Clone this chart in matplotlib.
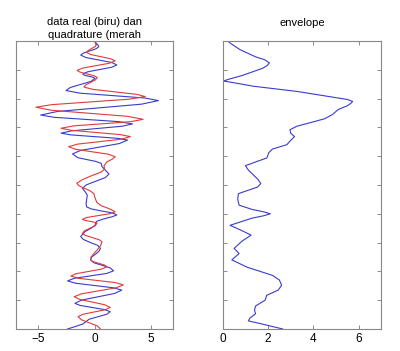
import numpy as np
import matplotlib
matplotlib.use("Agg")
from matplotlib import pyplot as plt

plt.rcParams["font.family"] = ["Liberation Sans", "DejaVu Sans"]

# trace position (top = 0, bottom = 10) and amplitude
# real part (blue)
u_real = [0.0, 0.05, 0.1, 0.15, 0.2, 0.27, 0.345, 0.42, 0.49, 0.575, 0.66, 0.745,
          0.83, 0.91, 0.99, 1.07, 1.15, 1.19, 1.225, 1.26, 1.3, 1.405, 1.51, 1.615,
          1.72, 1.81, 1.895, 1.98, 2.07, 2.195, 2.32, 2.445, 2.57, 2.65, 2.725, 2.8,
          2.88, 2.96, 3.04, 3.12, 3.2, 3.26, 3.32, 3.38, 3.44, 3.56, 3.68, 3.8,
          3.92, 4.05, 4.1, 4.18, 4.25, 4.36, 4.48, 4.62, 4.745, 4.87, 4.995, 5.12,
          5.25, 5.36, 5.5, 5.65, 5.76, 5.83, 5.9, 5.97, 6.04, 6.1, 6.18, 6.26, 6.33,
          6.4, 6.5, 6.62, 6.79, 6.89, 7.0, 7.1, 7.2, 7.3, 7.4, 7.5, 7.6, 7.7, 7.79,
          7.88, 7.98, 8.07, 8.155, 8.24, 8.33, 8.41, 8.49, 8.57, 8.65, 8.765, 8.88,
          8.995, 9.11, 9.18, 9.255, 9.33, 9.4, 9.49, 9.575, 9.66, 9.75, 9.82, 9.9,
          10.0]
real = [0.05, 0.1, 0.22, 0.33, 0.38, 0.14, -0.43, -0.99, -1.23, -0.76, 0.38, 1.52,
        1.99, 1.55, 0.47, -0.61, -1.05, -0.89, -0.5, -0.11, 0.05, -0.33, -1.25, -2.16,
        -2.54, -1.34, 1.58, 4.5, 5.7, 4.17, 0.45, -3.27, -4.8, -3.6, -0.7, 2.19,
        3.39, 2.46, 0.2, -2.05, -2.98, -2.11, -0.01, 2.08, 2.95, 2.23, 0.5, -1.24,
        -1.96, -1.5, -0.9, 0.1, 0.6, 0.67, 0.95, 1.3, 0.95, 0.11, -0.73, -1.08,
        -0.8, -0.64, -0.7, -0.75, -0.7, -0.3, 0.6, 1.6, 1.99, 1.6, 0.8, 0.2, 0.1,
        0.05, -0.3, -0.85, -1.23, -1.0, -0.35, 0.3, 0.53, 0.4, 0.1, -0.25, -0.35, -0.05, 0.68,
        1.4, 1.7, 1.1, -0.35, -1.8, -2.4, -1.7, 0.0, 1.7, 2.43, 1.8, 0.34,
        -1.14, -1.75, -1.29, -0.18, 0.94, 1.4, 1.08, 0.3, -0.47, -0.79, -1.0, -1.6,
        -2.4]

# quadrature (red)
u_quad = [0.0, 0.04, 0.08, 0.12, 0.19, 0.26, 0.33, 0.4, 0.47, 0.545, 0.62, 0.69,
          0.77, 0.855, 0.94, 1.02, 1.08, 1.145, 1.21, 1.27, 1.35, 1.435, 1.52, 1.6,
          1.68, 1.765, 1.85, 1.93, 2.02, 2.115, 2.21, 2.3, 2.405, 2.51, 2.615, 2.72,
          2.8, 2.875, 2.95, 3.03, 3.1, 3.175, 3.25, 3.32, 3.41, 3.495, 3.58, 3.67,
          3.76, 3.845, 3.93, 4.02, 4.1, 4.2, 4.33, 4.45, 4.55, 4.7, 4.82, 4.94,
          5.02, 5.1, 5.2, 5.3, 5.45, 5.6, 5.72, 5.82, 5.93, 5.995, 6.06, 6.125, 6.19,
          6.225, 6.26, 6.295, 6.33, 6.42, 6.505, 6.59, 6.68, 6.75, 6.825, 6.9, 6.97,
          7.1, 7.25, 7.4, 7.5, 7.6, 7.66, 7.72, 7.78, 7.84, 7.92, 8.0, 8.08, 8.16,
          8.24, 8.315, 8.39, 8.47, 8.57, 8.675, 8.78, 8.88, 8.97, 9.065, 9.16, 9.25,
          9.33, 9.41, 9.49, 9.57, 9.68, 9.785, 9.89, 10.0]
quad = [0.0, 0.03, 0.12, 0.2, 0.07, -0.25, -0.57, -0.7, -0.33, 0.57, 1.47, 1.84,
        1.35, 0.15, -1.06, -1.55, -1.29, -0.65, -0.01, 0.25, 0.08, -0.35, -0.77, -0.94,
        -0.14, 1.8, 3.73, 4.53, 3.1, -0.35, -3.8, -5.23, -3.83, -0.45, 2.93, 4.33,
        3.26, 0.68, -1.91, -2.98, -2.08, 0.11, 2.3, 3.2, 2.4, 0.45, -1.5, -2.31,
        -1.7, -0.24, 1.23, 1.84, 1.6, 1.1, 0.85, 0.9, 0.6, -0.4, -1.1, -1.58,
        -1.4, -1.0, -0.4, -0.05, 0.05, 0.2, 0.6, 1.3, 1.84, 1.41, 0.38, -0.65, -1.08,
        -0.89, -0.43, 0.04, 0.23, 0.04, -0.43, -0.89, -1.08, -0.82, -0.2, 0.41, 0.67,
        0.55, 0.25, -0.1, -0.3, -0.35, -0.14, 0.38, 0.9, 1.11, 0.64, -0.5, -1.64, -2.11,
        -1.43, 0.23, 1.89, 2.57, 1.93, 0.38, -1.17, -1.81, -1.34, -0.2, 0.93, 1.4,
        0.98, -0.03, -1.04, -1.46, -1.17, -0.47, 0.24, 0.53]

# envelope (blue, right panel)
u_env = [0.0, 0.07, 0.3, 0.55, 0.65, 0.76, 0.86, 0.95, 1.2, 1.33, 1.39, 1.45, 1.57,
         1.75, 1.98, 2.03, 2.1, 2.17, 2.25, 2.38, 2.55, 2.7, 2.85, 2.96, 3.08, 3.2,
         3.32, 3.45, 3.6, 3.75, 3.88, 4.06, 4.2, 4.33, 4.48, 4.65, 4.8, 4.95, 5.07,
         5.3, 5.5, 5.7, 5.85, 5.93, 6.0, 6.07, 6.15, 6.4, 6.55, 6.74, 6.95, 7.2,
         7.38, 7.6, 7.85, 8.14, 8.3, 8.48, 8.65, 8.83, 9.0, 9.2, 9.35, 9.47, 9.62,
         9.72, 9.82, 10.0]
env = [0.22, 0.32, 0.76, 1.45, 1.85, 2.06, 1.95, 1.75, 0.85, 0.25, 0.03, 0.5, 1.35,
       3.27, 5.1, 5.5, 5.74, 5.65, 5.5, 5.1, 4.85, 4.5, 3.8, 3.27, 2.97, 3.0,
       3.17, 3.0, 2.83, 2.2, 2.03, 1.95, 1.45, 1.0, 1.13, 1.35, 1.55, 1.68, 1.54,
       0.69, 0.66, 0.72, 1.3, 1.8, 2.1, 1.8, 1.3, 0.32, 0.75, 1.25, 0.85, 0.5,
       0.72, 0.4, 1.06, 2.2, 2.5, 2.6, 2.45, 1.94, 1.87, 1.45, 1.4, 1.45, 1.2,
       1.13, 1.7, 2.65]

blue = "#3a3ad0"
red = "#e03a3a"

fig = plt.figure(figsize=(4.0, 3.51), dpi=100)
ax1 = fig.add_axes([0.04, 0.0627, 0.3925, 0.8205])
ax2 = fig.add_axes([0.557, 0.0627, 0.396, 0.8205])

ax1.plot(real, u_real, color=blue, lw=0.8)
ax1.plot(quad, u_quad, color=red, lw=0.8)
ax1.set_xlim(-7, 7)
ax1.set_xticks([-5, 0, 5])
ax1.set_title("data real (biru) dan\nquadrature (merah", fontsize=8, pad=2,
              linespacing=1.4)

ax2.plot(env, u_env, color=blue, lw=0.8)
ax2.set_xlim(0, 7)
ax2.set_xticks([0, 2, 4, 6])
ax2.set_title("envelope", fontsize=8, pad=11)

for ax in (ax1, ax2):
    ax.set_ylim(10, 0)
    ax.set_yticks(np.arange(1, 10))
    ax.set_yticklabels([])
    ax.tick_params(direction="in", top=True, right=True, length=3,
                   width=0.6, color="#777777", labelsize=8.5, pad=3)
    for s in ax.spines.values():
        s.set_color("#888888")
        s.set_linewidth(0.8)

fig.savefig("out.png", dpi=100)
